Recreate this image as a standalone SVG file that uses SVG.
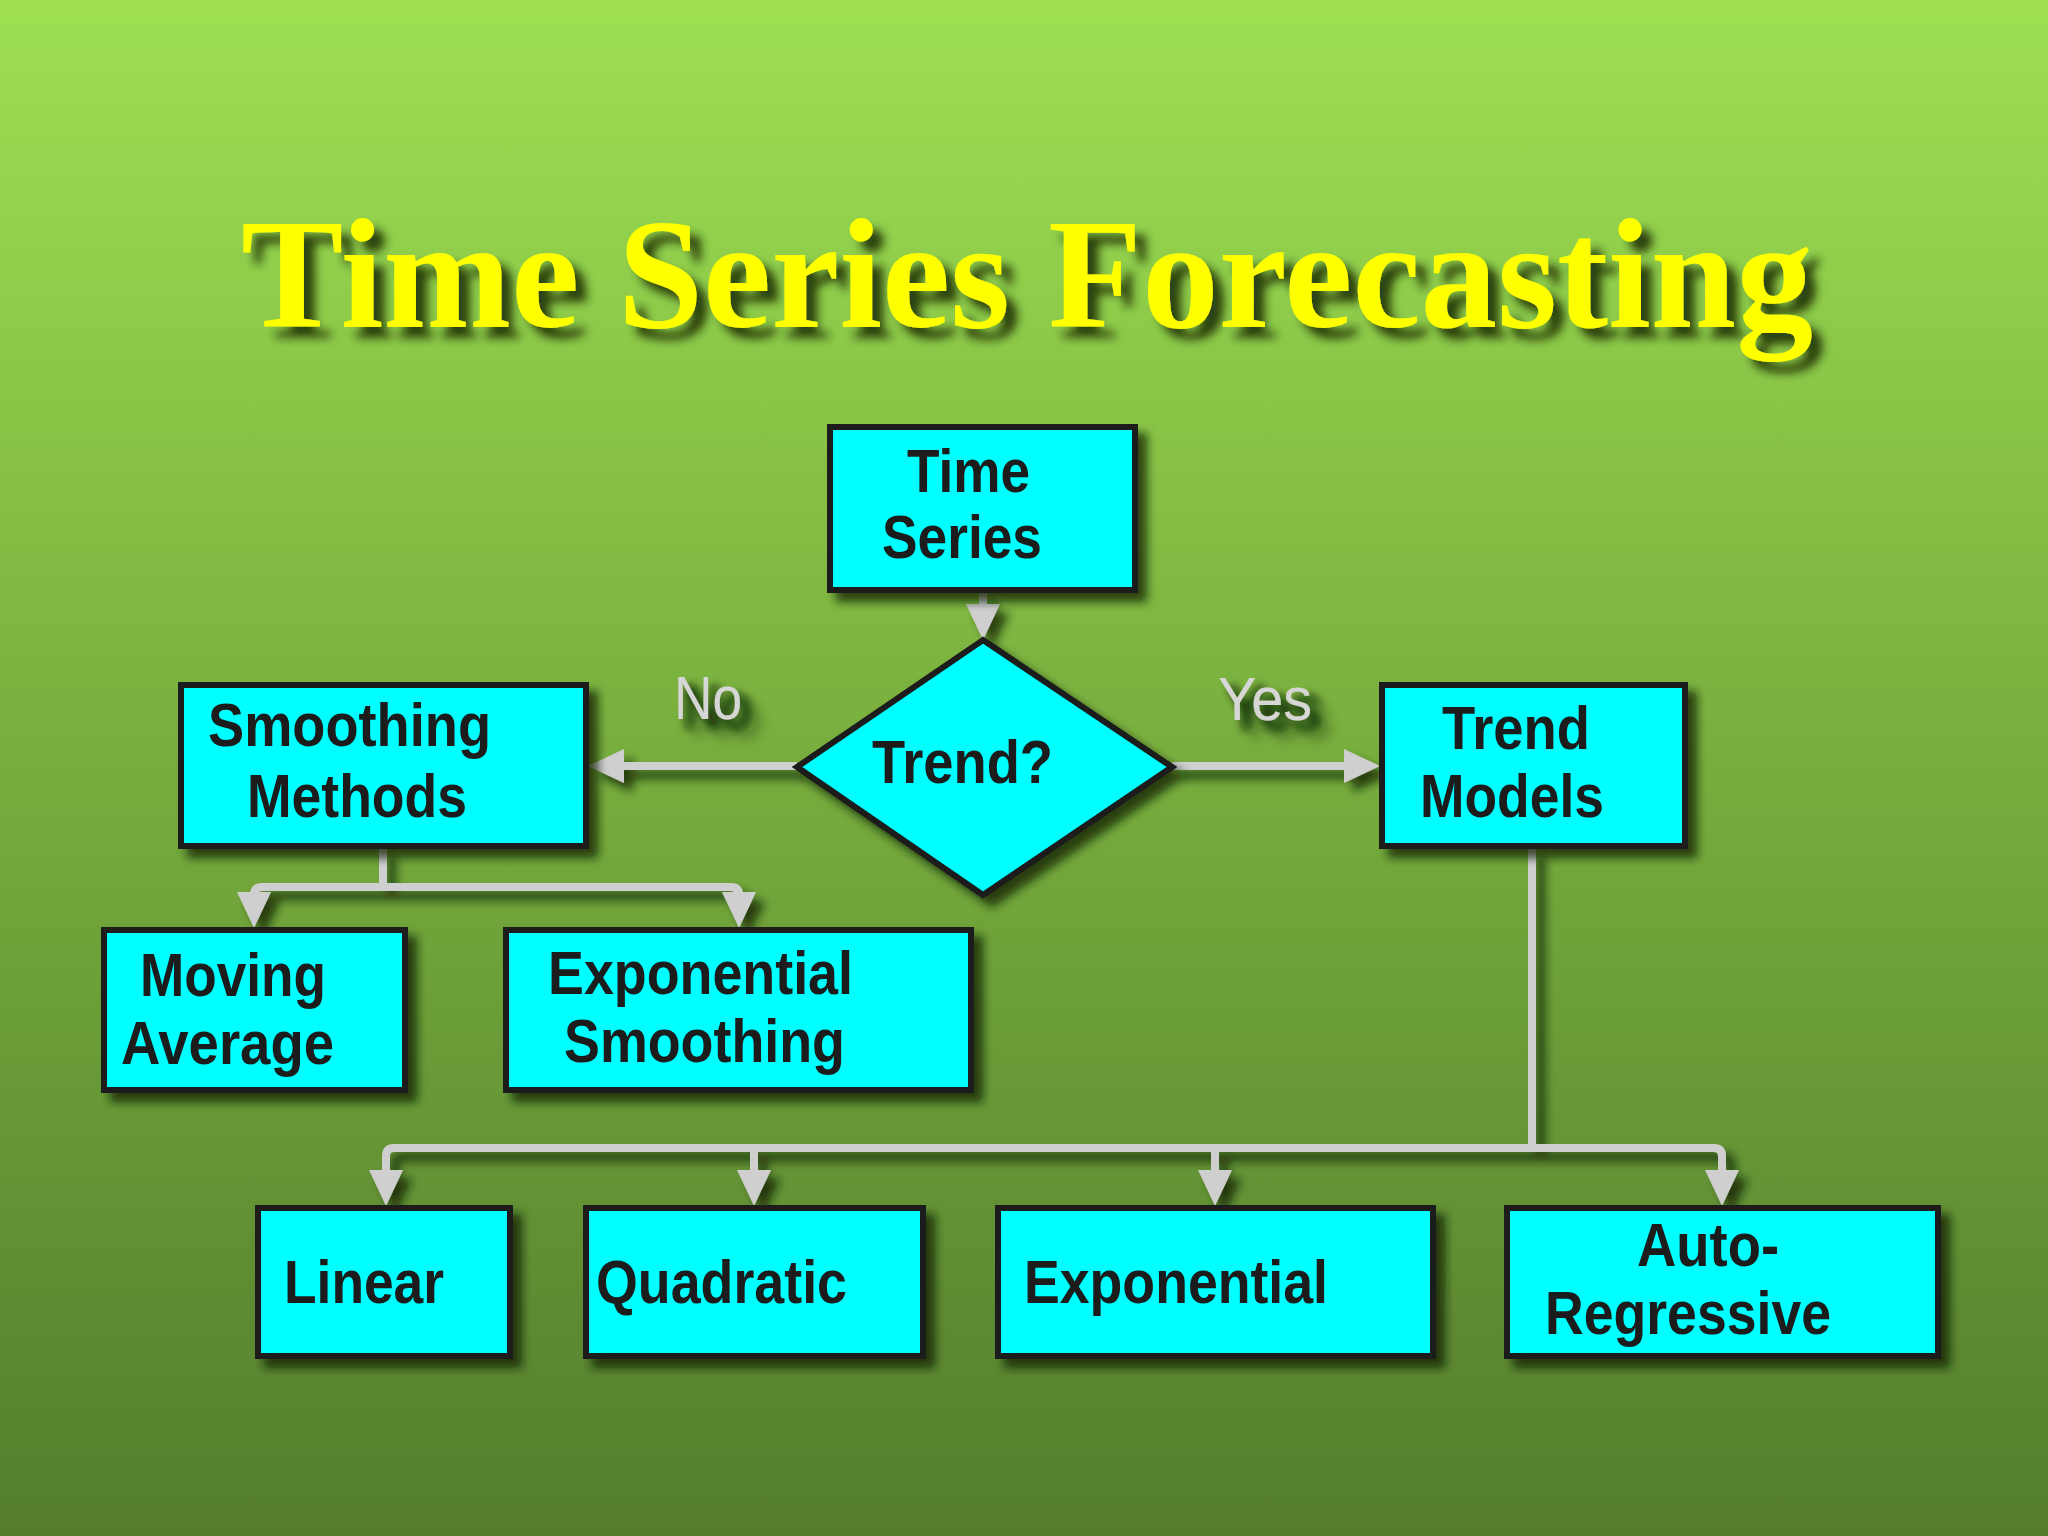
<svg xmlns="http://www.w3.org/2000/svg" width="2048" height="1536" viewBox="0 0 2048 1536">
  <defs>
    <linearGradient id="bg" x1="0" y1="0" x2="0" y2="1">
      <stop offset="0" stop-color="#9ee052"/>
      <stop offset="0.5" stop-color="#77ad3d"/>
      <stop offset="1" stop-color="#537d2d"/>
    </linearGradient>
    <filter id="shadow" x="-20%" y="-20%" width="150%" height="150%">
      <feGaussianBlur in="SourceAlpha" stdDeviation="5"/>
      <feOffset dx="9" dy="9" result="b"/>
      <feFlood flood-color="#0d1a05" flood-opacity="0.75"/>
      <feComposite in2="b" operator="in"/>
      <feMerge><feMergeNode/><feMergeNode in="SourceGraphic"/></feMerge>
    </filter>
    <filter id="tshadow" x="-10%" y="-20%" width="120%" height="160%">
      <feGaussianBlur in="SourceAlpha" stdDeviation="5"/>
      <feOffset dx="11" dy="11" result="b"/>
      <feFlood flood-color="#1c2a08" flood-opacity="0.85"/>
      <feComposite in2="b" operator="in"/>
      <feMerge><feMergeNode/><feMergeNode in="SourceGraphic"/></feMerge>
    </filter>
    <marker id="arr" viewBox="0 0 36 34" refX="18" refY="17" markerWidth="36" markerHeight="34" markerUnits="userSpaceOnUse" orient="auto">
      <path d="M0,0 L36,17 L0,34 z" fill="#cfcfcf"/>
    </marker>
    <style>
      .box { fill: #00ffff; stroke: #1a1a1a; stroke-width: 6; }
      .lbl { font-family: "Liberation Sans", Arial, sans-serif; font-weight: bold; font-size: 62px; fill: #1a1a1a; }
      .edge { fill: none; stroke: #cfcfcf; stroke-width: 8; stroke-linejoin: round; }
      .elbl { font-family: "Liberation Sans", Arial, sans-serif; font-size: 62px; fill: #d6d6d6; }
      .title { font-family: "Liberation Serif", "Times New Roman", serif; font-weight: bold; font-size: 157px; fill: #ffff00; }
    </style>
  </defs>

  <rect x="0" y="0" width="2048" height="1536" fill="url(#bg)"/>

  <text class="title" x="241" y="327" textLength="1572" lengthAdjust="spacingAndGlyphs" filter="url(#tshadow)">Time Series Forecasting</text>

  <g id="connectors" filter="url(#shadow)">
    <path class="edge" d="M983,592 V622" marker-end="url(#arr)"/>
    <path class="edge" d="M797,766 H606" marker-end="url(#arr)"/>
    <path class="edge" d="M1172,766 H1362" marker-end="url(#arr)"/>
    <path class="edge" d="M383,848 V887 H262 Q254,887 254,895 V910" marker-end="url(#arr)"/>
    <path class="edge" d="M383,887 H731 Q739,887 739,895 V910" marker-end="url(#arr)"/>
    <path class="edge" d="M1532,848 V1148 H394 Q386,1148 386,1156 V1188" marker-end="url(#arr)"/>
    <path class="edge" d="M1532,1148 H1714 Q1722,1148 1722,1156 V1188" marker-end="url(#arr)"/>
    <path class="edge" d="M754,1148 V1188" marker-end="url(#arr)"/>
    <path class="edge" d="M1215,1148 V1188" marker-end="url(#arr)"/>
    <g filter="url(#shadow)">
      <text class="elbl" x="674" y="719" textLength="68" lengthAdjust="spacingAndGlyphs">No</text>
      <text class="elbl" x="1218" y="720" textLength="94" lengthAdjust="spacingAndGlyphs">Yes</text>
    </g>
  </g>

  <g id="time-series" filter="url(#shadow)">
    <rect class="box" x="830" y="427" width="305" height="163"/>
    <text class="lbl" x="907" y="492" textLength="123" lengthAdjust="spacingAndGlyphs">Time</text>
    <text class="lbl" x="882" y="558" textLength="160" lengthAdjust="spacingAndGlyphs">Series</text>
  </g>

  <g id="trend-decision" filter="url(#shadow)">
    <polygon class="box" points="983,640 1172,767 983,895 797,767"/>
    <text class="lbl" x="872" y="783" textLength="181" lengthAdjust="spacingAndGlyphs">Trend?</text>
  </g>

  <g id="smoothing-methods" filter="url(#shadow)">
    <rect class="box" x="181" y="685" width="405" height="161"/>
    <text class="lbl" x="208" y="746" textLength="283" lengthAdjust="spacingAndGlyphs">Smoothing</text>
    <text class="lbl" x="247" y="817" textLength="220" lengthAdjust="spacingAndGlyphs">Methods</text>
  </g>

  <g id="trend-models" filter="url(#shadow)">
    <rect class="box" x="1382" y="685" width="303" height="161"/>
    <text class="lbl" x="1442" y="749" textLength="148" lengthAdjust="spacingAndGlyphs">Trend</text>
    <text class="lbl" x="1420" y="817" textLength="184" lengthAdjust="spacingAndGlyphs">Models</text>
  </g>

  <g id="moving-average" filter="url(#shadow)">
    <rect class="box" x="104" y="930" width="301" height="160"/>
    <text class="lbl" x="140" y="996" textLength="186" lengthAdjust="spacingAndGlyphs">Moving</text>
    <text class="lbl" x="121" y="1064" textLength="213" lengthAdjust="spacingAndGlyphs">Average</text>
  </g>

  <g id="exponential-smoothing" filter="url(#shadow)">
    <rect class="box" x="506" y="930" width="465" height="160"/>
    <text class="lbl" x="548" y="994" textLength="305" lengthAdjust="spacingAndGlyphs">Exponential</text>
    <text class="lbl" x="564" y="1062" textLength="281" lengthAdjust="spacingAndGlyphs">Smoothing</text>
  </g>

  <g id="linear" filter="url(#shadow)">
    <rect class="box" x="258" y="1208" width="252" height="148"/>
    <text class="lbl" x="284" y="1303" textLength="160" lengthAdjust="spacingAndGlyphs">Linear</text>
  </g>

  <g id="quadratic" filter="url(#shadow)">
    <rect class="box" x="586" y="1208" width="337" height="148"/>
    <text class="lbl" x="596" y="1303" textLength="251" lengthAdjust="spacingAndGlyphs">Quadratic</text>
  </g>

  <g id="exponential" filter="url(#shadow)">
    <rect class="box" x="998" y="1208" width="435" height="148"/>
    <text class="lbl" x="1024" y="1303" textLength="304" lengthAdjust="spacingAndGlyphs">Exponential</text>
  </g>

  <g id="auto-regressive" filter="url(#shadow)">
    <rect class="box" x="1507" y="1208" width="431" height="148"/>
    <text class="lbl" x="1637" y="1266" textLength="142" lengthAdjust="spacingAndGlyphs">Auto-</text>
    <text class="lbl" x="1545" y="1334" textLength="286" lengthAdjust="spacingAndGlyphs">Regressive</text>
  </g>
</svg>
